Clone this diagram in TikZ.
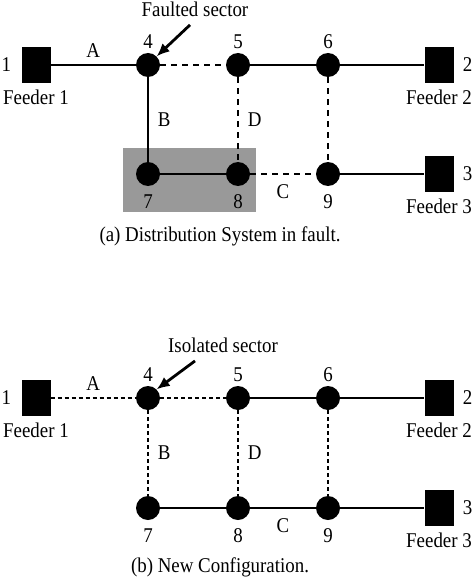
\documentclass[tikz,border=0pt]{standalone}
\usepackage{fontspec}
\setmainfont{Liberation Serif}[FakeStretch=0.9]
\usetikzlibrary{positioning,arrows.meta,calc}
\pgfdeclarelayer{background}
\pgfsetlayers{background,main}
\definecolor{faultgray}{HTML}{999999}

\begin{document}
\begin{tikzpicture}[
  x=1pt, y=-1pt,
  font=\fontsize{21}{24}\selectfont,
  bus/.style={circle, fill=black, minimum size=24pt, inner sep=0pt},
  feeder/.style={fill=black, minimum width=29pt, minimum height=36pt, inner sep=0pt},
  num/.style={inner sep=0pt},
  wire/.style={line width=1.8pt},
  open wire/.style={line width=1.8pt, dash pattern=on 6pt off 5pt},
  open fine/.style={line width=1.8pt, dash pattern=on 4pt off 3pt},
  pointer/.style={-{Latex[length=13pt, width=11pt]}, line width=2.8pt}
]
\useasboundingbox (0,0) rectangle (474,580);
% ---------- (a) distribution system in fault ----------
\node[feeder, label={[num, label distance=10pt]left:1}, label={[num, label distance=7pt]below:Feeder 1}] (a1) at (36,65) {};
\node[feeder, label={[num, label distance=9pt]right:2}, label={[num, label distance=7pt]below:Feeder 2}] (a2) at (439,65) {};
\node[feeder, label={[num, label distance=9pt]right:3}, label={[num, label distance=7pt]below:Feeder 3}] (a3) at (439,174) {};
\node[bus, label={[num, label distance=4pt]above:4}] (a4) at (148,65) {};
\node[bus, label={[num, label distance=4pt]above:5}] (a5) at (238,65) {};
\node[bus, label={[num, label distance=4pt]above:6}] (a6) at (328,65) {};
\node[bus, label={[num, label distance=8pt]below:7}] (a7) at (148,174) {};
\node[bus, label={[num, label distance=8pt]below:8}] (a8) at (238,174) {};
\node[bus, label={[num, label distance=8pt]below:9}] (a9) at (328,174) {};
\begin{pgfonlayer}{background}
  \fill[faultgray] (123,148) rectangle (256,212);
\end{pgfonlayer}
\draw[wire] (a1) -- node[num, above=7pt] {A} (a4);
\draw[open wire] (a4) -- (a5);
\draw[wire] (a5) -- (a6);
\draw[wire] (a6) -- (a2);
\draw[wire] (a4) -- node[num, right=9pt] {B} (a7);
\draw[open wire] (a5) -- node[num, right=9pt] {D} (a8);
\draw[open wire] (a6) -- (a9);
\draw[wire] (a7) -- (a8);
\draw[open wire] (a8) -- node[num, below=10pt] {C} (a9);
\draw[wire] (a9) -- (a3);
\node (fault) at (195,9) {Faulted sector};
\draw[pointer] ([xshift=-5pt, yshift=-5pt]fault.south) -- (a4.north east);
\node (capa) at (220,236) {(a) Distribution System in fault.};

% ---------- (b) new configuration ----------
\node[feeder, label={[num, label distance=10pt]left:1}, label={[num, label distance=7pt]below:Feeder 1}] (b1) at (36,398) {};
\node[feeder, label={[num, label distance=9pt]right:2}, label={[num, label distance=7pt]below:Feeder 2}] (b2) at (439,398) {};
\node[feeder, label={[num, label distance=9pt]right:3}, label={[num, label distance=7pt]below:Feeder 3}] (b3) at (439,508) {};
\node[bus, label={[num, label distance=4pt]above:4}] (b4) at (148,398) {};
\node[bus, label={[num, label distance=4pt]above:5}] (b5) at (238,398) {};
\node[bus, label={[num, label distance=4pt]above:6}] (b6) at (328,398) {};
\node[bus, label={[num, label distance=8pt]below:7}] (b7) at (148,508) {};
\node[bus, label={[num, label distance=8pt]below:8}] (b8) at (238,508) {};
\node[bus, label={[num, label distance=8pt]below:9}] (b9) at (328,508) {};
\draw[open fine] (b1) -- node[num, above=7pt] {A} (b4);
\draw[open fine] (b4) -- (b5);
\draw[wire] (b5) -- (b6);
\draw[wire] (b6) -- (b2);
\draw[open fine] (b4) -- node[num, right=9pt] {B} (b7);
\draw[open fine] (b5) -- node[num, right=9pt] {D} (b8);
\draw[open fine] (b6) -- (b9);
\draw[wire] (b7) -- (b8);
\draw[wire] (b8) -- node[num, below=10pt] {C} (b9);
\draw[wire] (b9) -- (b3);
\node (isol) at (223,345) {Isolated sector};
\draw[pointer] ([xshift=-28pt, yshift=-5pt]isol.south) -- (b4.north east);
\node (capb) at (220,567) {(b) New Configuration.};
\end{tikzpicture}
\end{document}
